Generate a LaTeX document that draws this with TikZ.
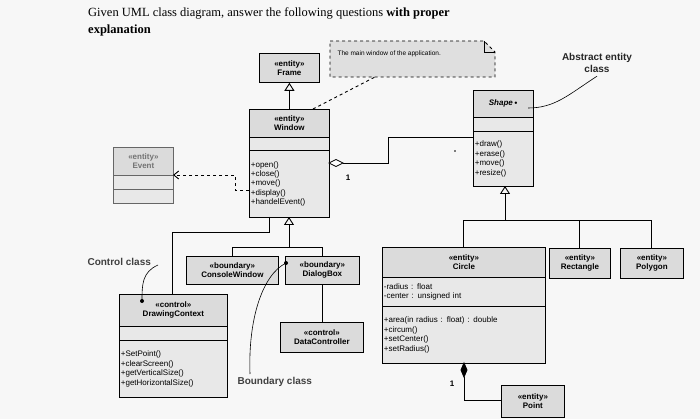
\documentclass[tikz,border=0pt]{standalone}
\usepackage{fontspec}
\setmainfont{Liberation Serif}
\setsansfont{Liberation Sans}
\usetikzlibrary{arrows.meta,calc}
\newcommand\ubox[7]{% name, x1,y1,x2,y2, style, text
 \node[#6,anchor=north west,minimum width={(#4-#2)*1pt},minimum height={(#5-#3)*1pt}] (#1) at (#2,#3) {#7};}
\newcommand\membox[7]{%
 \node[#6,anchor=north west,minimum width={(#4-#2)*1pt},minimum height={(#5-#3)*1pt},text width={(#4-#2-3)*1pt},align=left] (#1) at (#2,#3) {#7};}
\begin{document}
\begin{tikzpicture}[x=1pt,y=-1pt,
 ucls/.style={draw,line width=0.8pt,fill=gray!28,inner sep=1pt,align=center,font=\sffamily\bfseries\fontsize{8}{9}\selectfont},
 ucmp/.style={draw,line width=0.8pt,fill=gray!18,inner sep=1.5pt,font=\sffamily\fontsize{8}{9.4}\selectfont},
 ln/.style={line width=0.9pt},
 gen/.style={ln,-{Triangle[open,length=8pt,width=10pt]}},
 lbl/.style={font=\sffamily\bfseries\fontsize{10}{12}\selectfont,text=black!75}]
\useasboundingbox[fill=gray!6] (0,0) rectangle (700,419);
% title
\node[anchor=west,font=\fontsize{12.5}{15}\selectfont,inner sep=0] (t1) at (88,13) {Given UML class diagram, answer the following questions \textbf{with proper}};
\node[anchor=west,font=\fontsize{12.5}{15}\selectfont\bfseries,inner sep=0] (t2) at (88,30) {explanation};
% Frame
\ubox{frame}{259}{53}{319}{82}{ucls}{\guillemotleft entity\guillemotright\\Frame}
% note
\path[draw,dashed,line width=0.8pt,fill=gray!25] (330,41) -- (484,41) -- (495,52) -- (495,77) -- (330,77) -- cycle;
\draw[line width=0.8pt] (484,41) -- (484,52) -- (495,52);
\node[anchor=west,font=\sffamily\fontsize{6.5}{8}\selectfont] (note) at (334,54) {The main window of the application.};
% Window
\ubox{wn}{249}{109}{329}{137}{ucls}{\guillemotleft entity\guillemotright\\Window}
\ubox{we}{249}{137}{329}{150}{ucmp}{}
\membox{wm}{249}{150}{329}{217}{ucmp}{+open()\\+close()\\+move()\\+display()\\+handelEvent()}
% Event
\ubox{en}{113}{147}{173}{175}{ucls,text=black!55,draw=black!60}{\guillemotleft entity\guillemotright\\Event}
\ubox{ee}{113}{175}{173}{189}{ucmp,draw=black!60}{}
\ubox{ef}{113}{189}{173}{203}{ucmp,draw=black!60}{}
% Shape
\ubox{sn}{473}{90}{533}{117}{ucls}{\textit{Shape}\,\raisebox{1pt}{\tiny$\bullet$}}
\ubox{se}{473}{117}{533}{131}{ucmp}{}
\membox{sm}{473}{131}{533}{186}{ucmp}{+draw()\\+erase()\\+move()\\+resize()}
\node[lbl,align=center,text=black!85] (abs) at (597,63) {Abstract entity\\class};
\draw[line width=0.6pt] (528,108) .. controls (555,108) and (568,95) .. (abs.south);
% Circle
\ubox{cn}{382}{247}{545}{277}{ucls}{\guillemotleft entity\guillemotright\\Circle}
\membox{ca}{382}{277}{545}{306}{ucmp}{-radius : float\\-center : unsigned int}
\membox{cmm}{382}{306}{545}{363}{ucmp}{+area(in radius : float) : double\\+circum()\\+setCenter()\\+setRadius()}
\ubox{rect}{549}{248}{610}{278}{ucls}{\guillemotleft entity\guillemotright\\Rectangle}
\ubox{poly}{620}{248}{683}{278}{ucls}{\guillemotleft entity\guillemotright\\Polygon}
\ubox{point}{501}{385}{564}{417}{ucls}{\guillemotleft entity\guillemotright\\Point}
% boundary / control
\ubox{cw}{186}{256}{278}{284}{ucls}{\guillemotleft boundary\guillemotright\\ConsoleWindow}
\ubox{db}{285}{256}{359}{284}{ucls}{\guillemotleft boundary\guillemotright\\DialogBox}
\ubox{dc}{280}{322}{363}{352}{ucls}{\guillemotleft control\guillemotright\\DataController}
\ubox{dn}{119}{294}{227}{326}{ucls}{\guillemotleft control\guillemotright\\DrawingContext}
\ubox{de}{119}{326}{227}{340}{ucmp}{}
\membox{dm}{119}{340}{227}{397}{ucmp}{+SetPoint()\\+clearScreen()\\+getVerticalSize()\\+getHorizontalSize()}
\node[lbl,anchor=west] (ctl) at (84,262) {Control class};
\node[lbl,anchor=west] (bnd) at (234,382) {Boundary class};
\fill (142,301) circle (2pt);
\draw[line width=0.6pt] (158,265) .. controls (142,272) and (142,285) .. (142,301);
\fill (286,263) circle (2pt);
\draw[line width=0.6pt] (250,374) .. controls (248,320) and (262,275) .. (286,263);
% connectors
\draw[gen] (wn.north) -- (frame.south);
\draw[dashed,ln] (313,109) -- (375,77);
\coordinate (ev1) at (249,190);
\coordinate (ev2) at (173,175);
\draw[dashed,ln,-{Straight Barb[open,length=5pt,width=8pt]}] (ev1) -- (235,190) -- (235,175) -- (ev2);
\coordinate (agg) at (329,163);
\coordinate (sh1) at (473,137);
\draw[ln] (343,163) -- (388,163) -- (388,137) -- (sh1);
\draw[line width=0.8pt,fill=white] (agg) -- (336,159.5) -- (343,163) -- (336,166.5) -- cycle;
\node[font=\sffamily\bfseries\fontsize{8}{9}\selectfont] (one1) at (348,178) {1};
\fill (455,151) circle (0.9pt);
\coordinate (sbar) at (505,220);
\coordinate (stip) at (505,186);
\draw[ln] (cn.north) -- (cn.north |- sbar) -- (poly.north |- sbar) -- (poly.north);
\draw[ln] (rect.north) -- (rect.north |- sbar);
\draw[gen] (sbar) -- (stip);
\coordinate (wbar) at (289,247);
\coordinate (wtip) at (289,217);
\draw[ln] (cw.north) -- (cw.north |- wbar) -- (db.north |- wbar) -- (db.north);
\draw[gen] (wbar) -- (wtip);
\draw[ln] (db.south) -- (dc.north -| db.south);
\coordinate (wd) at (269,217);
\draw[ln] (wd) -- (269,232) -- (172,232) -- (172,294);
\coordinate (comp) at (464,363);
\coordinate (pt) at (501,400);
\draw[ln,fill=black] (comp) -- (461,370) -- (464,377) -- (467,370) -- cycle;
\draw[ln] (464,377) -- (464,400) -- (pt);
\node[font=\sffamily\bfseries\fontsize{8}{9}\selectfont] (one2) at (452,384) {1};
\end{tikzpicture}
\end{document}
